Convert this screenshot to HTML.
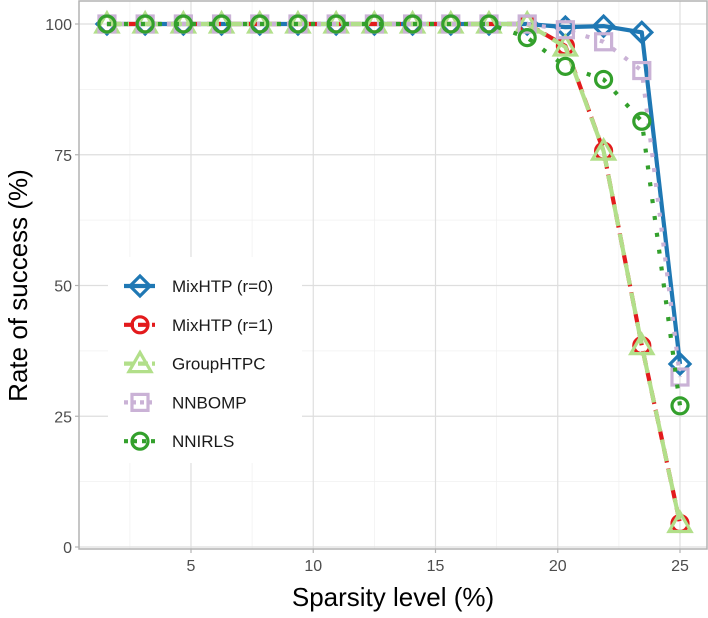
<!DOCTYPE html>
<html><head><meta charset="utf-8"><style>
body{margin:0;background:#fff;}
svg text{font-family:"Liberation Sans",Arial,sans-serif;}
</style></head><body>
<svg id="c" width="708" height="613" xmlns="http://www.w3.org/2000/svg"></svg>
<script>
const xVals=[1.5625,3.125,4.6875,6.25,7.8125,9.375,10.9375,12.5,14.0625,15.625,17.1875,18.75,20.3125,21.875,23.4375,25];
const mixR0=[100,100,100,100,100,100,100,100,100,100,100,100,99.4,99.6,98.4,35];
const mixR1=[100,100,100,100,100,100,100,100,100,100,100,100,95.8,75.7,38.5,4.5];
const groupHTPC=[100,100,100,100,100,100,100,100,100,100,100,100,95.6,75.7,38.5,4.5];
const nnbomp=[100,100,100,100,100,100,100,100,100,100,100,100,98.9,96.6,91.1,32.5];
const nnirls=[100,100,100,100,100,100,100,100,100,100,100,97.4,91.9,89.4,81.4,27];
const xTicks=[5,10,15,20,25];
const yTicks=[0,25,50,75,100];
const seriesNames=["MixHTP (r=0)","MixHTP (r=1)","GroupHTPC","NNBOMP","NNIRLS"];

const L=79,R=707,T=1,B=549;
const X=v=>191+(v-5)*24.45;
const Y=v=>547-v*5.23;
const svg=document.getElementById('c');
const NS='http://www.w3.org/2000/svg';
function mk(tag,attrs,parent){const e=document.createElementNS(NS,tag);for(const k in attrs)e.setAttribute(k,attrs[k]);(parent||svg).appendChild(e);return e;}

// minor grid
const grid=mk('g',{});


for(let v=2.5;v<=27.5;v+=5){const x=X(v);if(x>L&&x<R)mk('line',{x1:x,x2:x,y1:T,y2:B,stroke:'#f0f0f0','stroke-width':0.8},grid);}
for(let v=12.5;v<=112.5;v+=25){const y=Y(v);if(y>T&&y<B)mk('line',{x1:L,x2:R,y1:y,y2:y,stroke:'#f0f0f0','stroke-width':0.8},grid);}
xTicks.forEach(v=>mk('line',{x1:X(v),x2:X(v),y1:T,y2:B,stroke:'#dedede','stroke-width':1.2},grid));
yTicks.forEach(v=>mk('line',{x1:L,x2:R,y1:Y(v),y2:Y(v),stroke:'#dedede','stroke-width':1.2},grid));

// ticks + labels
xTicks.forEach(v=>{
  mk('line',{x1:X(v),x2:X(v),y1:B,y2:B+4,stroke:'#b3b3b3','stroke-width':1.2});
  const t=mk('text',{x:X(v),y:B+22,'text-anchor':'middle','font-size':16,fill:'#4d4d4d'});t.textContent=v;
  
  
});
yTicks.forEach(v=>{
  mk('line',{x1:L-4,x2:L,y1:Y(v),y2:Y(v),stroke:'#b3b3b3','stroke-width':1.2});
  const t=mk('text',{x:L-7,y:Y(v)+6,'text-anchor':'end','font-size':16,fill:'#4d4d4d'});t.textContent=v;
  
  
});

const styles=[
 {d:mixR0,c:'#1f78b4',dash:'',m:'diamond'},
 {d:mixR1,c:'#e31a1c',dash:'14,6',m:'circle'},
 {d:groupHTPC,c:'#b2df8a',dash:'22,8',m:'triangle'},
 {d:nnbomp,c:'#cab2d6',dash:'4,11',m:'square'},
 {d:nnirls,c:'#33a02c',dash:'4,13',m:'circle'}
];
function marker(type,x,y,c,g){
  const a={fill:'none',stroke:c,'stroke-width':3.2};
  if(type==='diamond')mk('polygon',Object.assign({points:`${x},${y-10} ${x+10},${y} ${x},${y+10} ${x-10},${y}`},a),g);
  else if(type==='circle')mk('circle',Object.assign({cx:x,cy:y,r:8},a),g);
  else if(type==='triangle')mk('polygon',Object.assign({points:`${x},${y-11} ${x+11},${y+8} ${x-11},${y+8}`},a),g);
  else mk('rect',Object.assign({x:x-8,y:y-8,width:16,height:16},a),g);
}
const plot=mk('g',{});


styles.forEach((s,i)=>{
  const g=mk('g',{},plot);
  
  
  const pts=s.d.map((v,j)=>X(xVals[j])+','+Y(v)).join(' ');
  const pl=mk('polyline',{points:pts,fill:'none',stroke:s.c,'stroke-width':4.2,'stroke-dasharray':s.dash,'stroke-linejoin':'round'},g);
  s.d.forEach((v,j)=>marker(s.m,X(xVals[j]),Y(v),s.c,g));
});

// panel border
mk('rect',{x:L,y:T,width:R-L,height:B-T,fill:'none',stroke:'#b3b3b3','stroke-width':1.5});

// legend
const lg=mk('g',{});


mk('rect',{x:108,y:257,width:194,height:206,fill:'#fff'},lg);
styles.forEach((s,i)=>{
  const y=286+i*38.8;
  const e=mk('g',{},lg);
  
  
  mk('line',{x1:124,x2:155,y1:y,y2:y,stroke:s.c,'stroke-width':4.2,'stroke-dasharray':s.dash?(i===3?'4,4':i===4?'4,5':'10,4'):''},e);
  marker(s.m,140,y,s.c,e);
  const t=mk('text',{x:172,y:y+6,'font-size':17,fill:'#1a1a1a'},e);t.textContent=seriesNames[i];
});

const xt=mk('text',{x:393,y:606,'text-anchor':'middle','font-size':26,fill:'#000'});xt.textContent='Sparsity level (%)';


const yt=mk('text',{x:0,y:0,'text-anchor':'middle','font-size':26,fill:'#000',transform:`translate(27,${Y(50)}) rotate(-90)`});yt.textContent='Rate of success (%)';


</script>
</body></html>
